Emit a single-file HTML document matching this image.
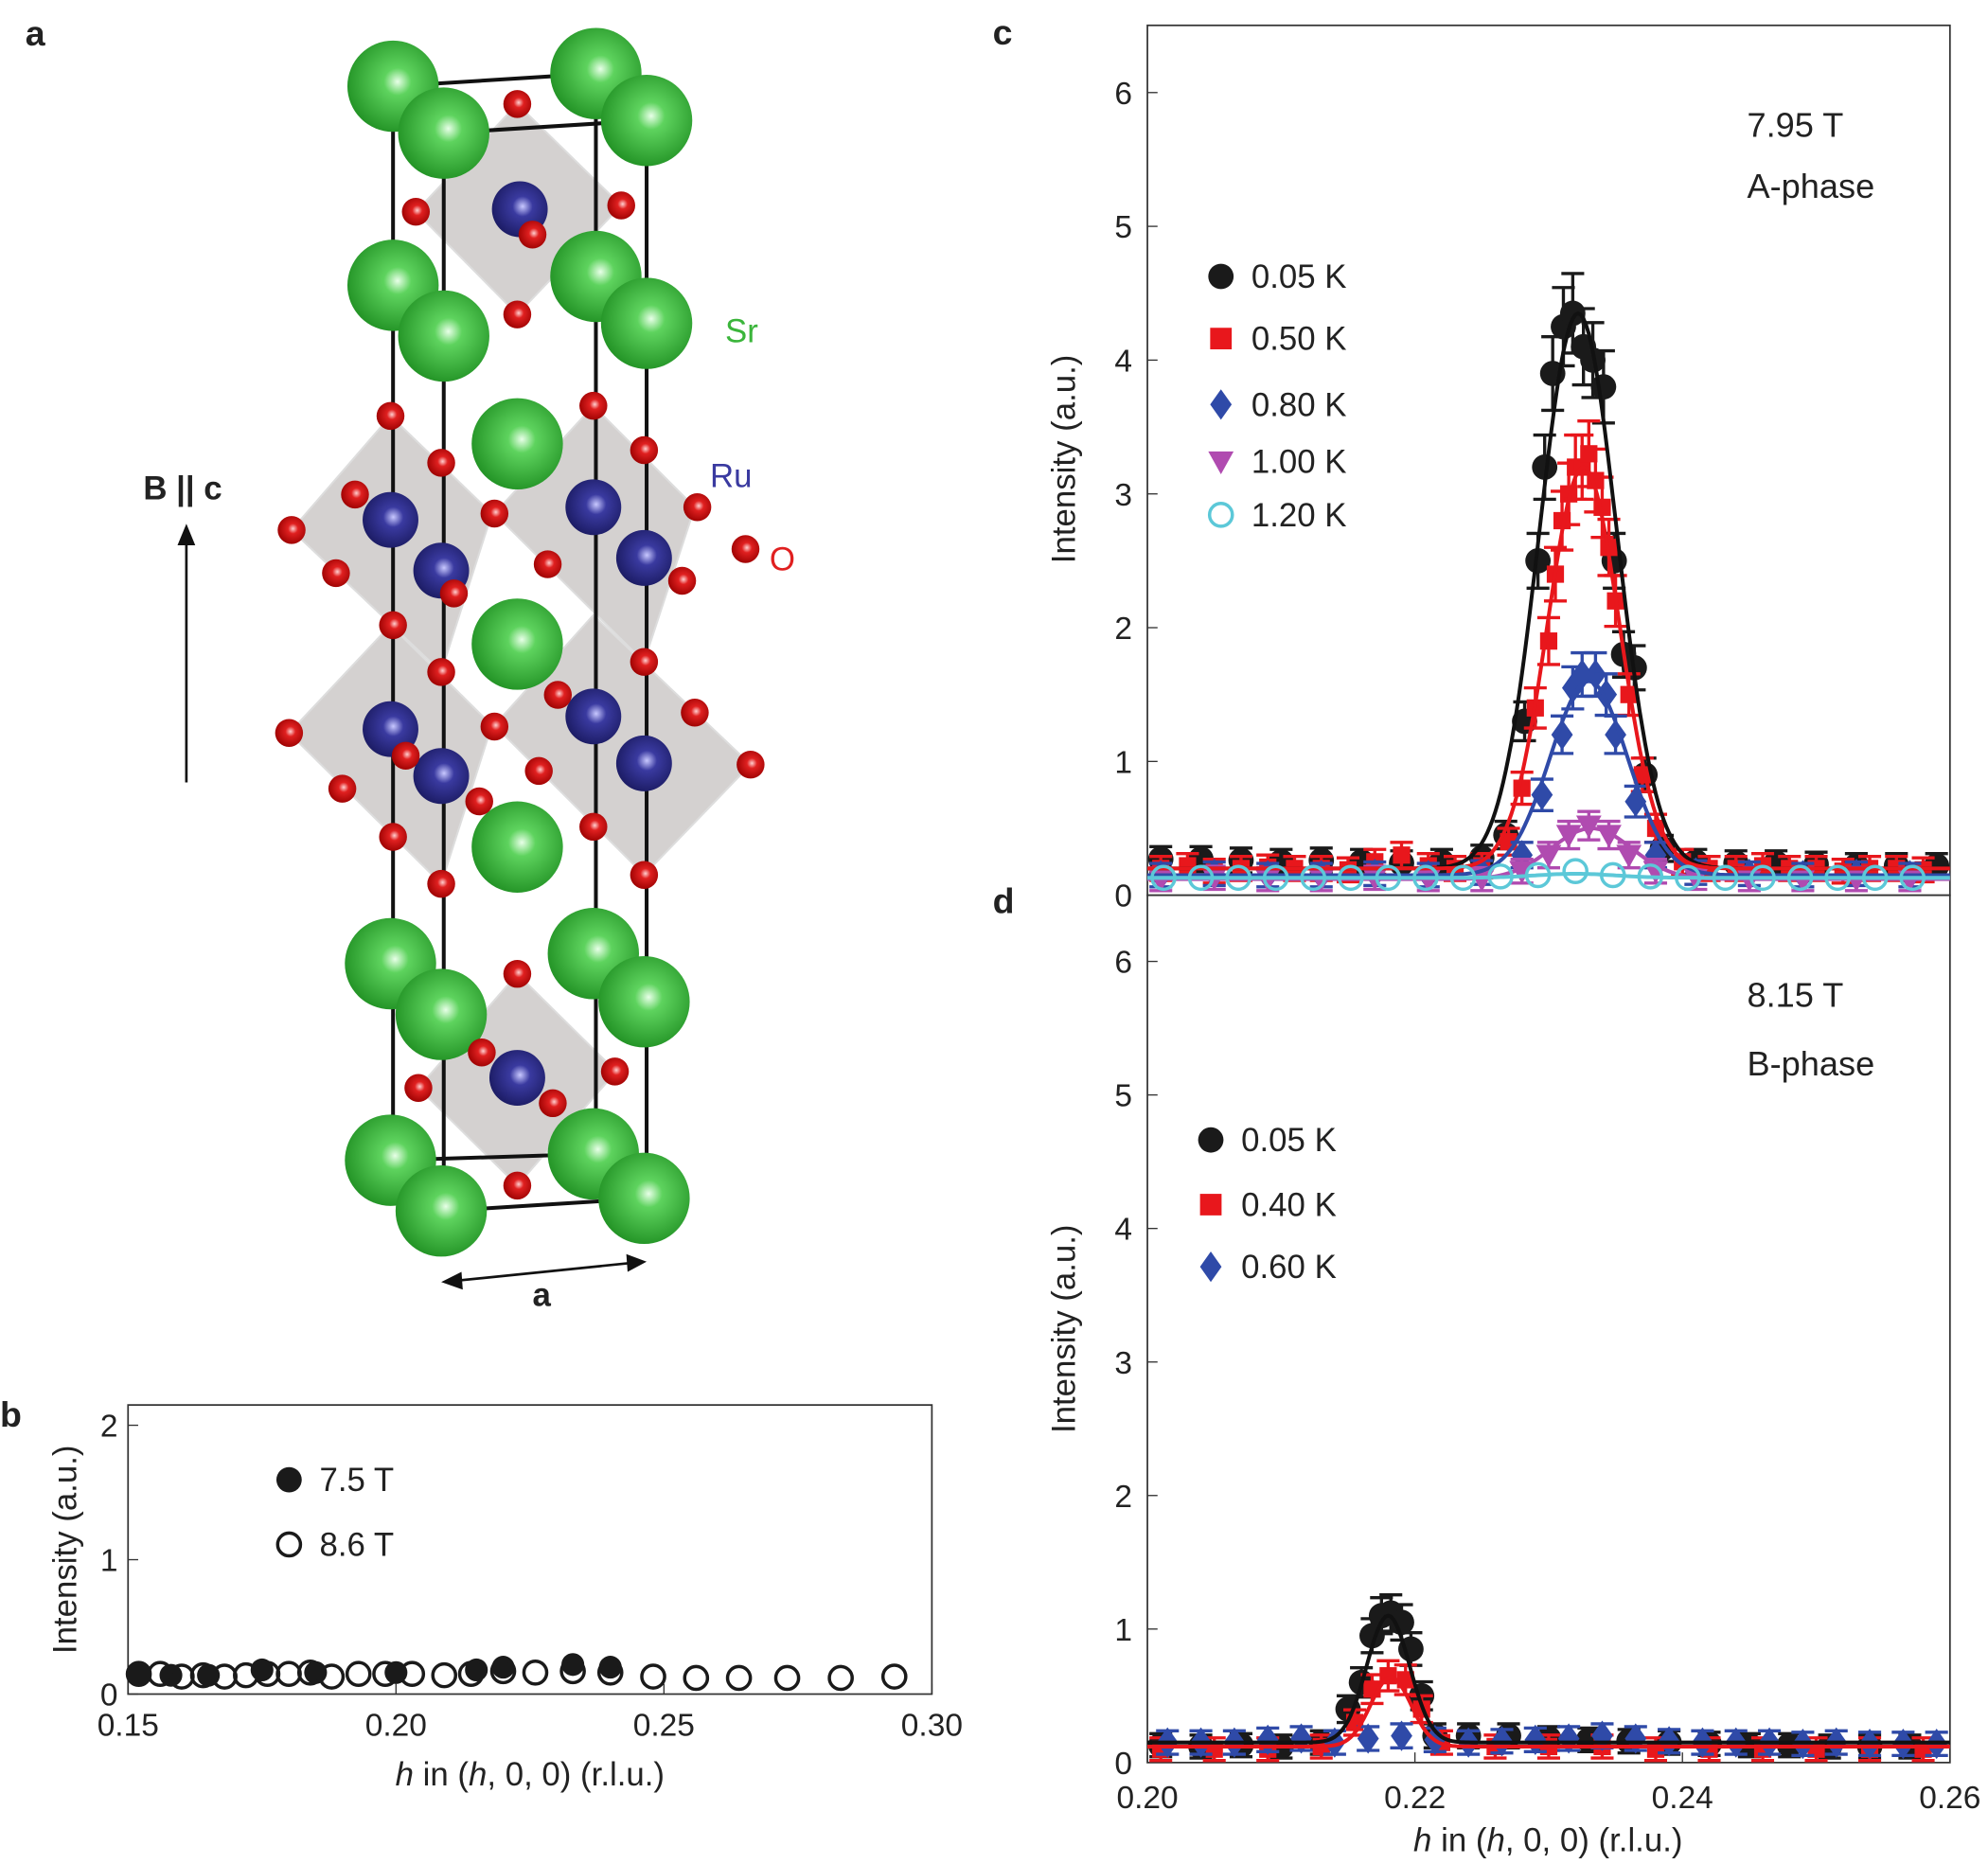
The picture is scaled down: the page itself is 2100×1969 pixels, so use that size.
<!DOCTYPE html>
<html><head><meta charset="utf-8">
<style>
html,body{margin:0;padding:0;background:#fff;}
svg{display:block;font-family:"Liberation Sans",sans-serif;}
text{fill:#222;}
</style></head>
<body>
<svg id="fig" width="2100" height="1969" viewBox="0 0 1568 1470" preserveAspectRatio="none" xmlns="http://www.w3.org/2000/svg">
<defs>
<radialGradient id="gG" cx="0.55" cy="0.45" r="0.6"><stop offset="0" stop-color="#e8ffe8"/><stop offset="0.25" stop-color="#5ed35e"/><stop offset="1" stop-color="#1f8f22"/></radialGradient>
<radialGradient id="gB" cx="0.55" cy="0.45" r="0.6"><stop offset="0" stop-color="#c8c8ff"/><stop offset="0.3" stop-color="#3a3aa0"/><stop offset="1" stop-color="#1a1a60"/></radialGradient>
<radialGradient id="gR" cx="0.55" cy="0.45" r="0.6"><stop offset="0" stop-color="#ffd0d0"/><stop offset="0.3" stop-color="#e02020"/><stop offset="1" stop-color="#900"/></radialGradient>
</defs>
<g id="panelA"></g>
<g id="panelB"></g>
<g id="panelC"></g>
<g id="panelD"></g>
</svg>
<script>
// ---------- Panel c data ----------
const cBlackH=[0.201,0.204,0.207,0.210,0.213,0.216,0.219,0.222,0.225,0.2268,0.2282,0.2292,0.2297,0.2303,0.2311,0.2318,0.2326,0.2333,0.2341,0.2349,0.2356,0.2364,0.2372,0.2385,0.241,0.244,0.247,0.250,0.253,0.256,0.259];
const cBlackI=[0.27,0.27,0.26,0.25,0.26,0.25,0.24,0.25,0.28,0.45,1.3,2.5,3.2,3.9,4.25,4.35,4.1,4.0,3.8,2.5,1.8,1.7,0.9,0.35,0.25,0.24,0.24,0.23,0.22,0.22,0.22];
const cRedH=[0.201,0.203,0.205,0.207,0.209,0.211,0.213,0.215,0.217,0.219,0.221,0.223,0.225,0.227,0.228,0.229,0.230,0.2305,0.231,0.2315,0.232,0.2325,0.233,0.2335,0.234,0.2345,0.235,0.236,0.237,0.238,0.240,0.242,0.244,0.246,0.248,0.250,0.252,0.254,0.256,0.258];
const cRedI=[0.2,0.22,0.18,0.2,0.21,0.2,0.2,0.19,0.25,0.3,0.22,0.2,0.22,0.4,0.8,1.4,1.9,2.4,2.8,3.0,3.2,3.2,3.3,3.1,2.9,2.6,2.2,1.5,0.9,0.5,0.25,0.2,0.2,0.22,0.2,0.2,0.18,0.2,0.2,0.19];
const cBlueH=[0.201,0.205,0.209,0.213,0.217,0.221,0.225,0.228,0.2295,0.231,0.2318,0.2325,0.2335,0.2343,0.235,0.2365,0.238,0.241,0.245,0.249,0.253,0.257];
const cBlueI=[0.15,0.16,0.15,0.15,0.16,0.15,0.17,0.3,0.75,1.2,1.55,1.65,1.65,1.5,1.2,0.7,0.3,0.17,0.16,0.15,0.16,0.15];
const cMagH=[0.201,0.205,0.209,0.213,0.217,0.221,0.225,0.228,0.230,0.2315,0.233,0.2345,0.236,0.238,0.241,0.245,0.249,0.253,0.257];
const cMagI=[0.12,0.13,0.12,0.12,0.13,0.12,0.12,0.18,0.3,0.45,0.52,0.45,0.3,0.18,0.13,0.12,0.12,0.12,0.12];
const cCyanH=[0.2012,0.2040,0.2068,0.2096,0.2124,0.2152,0.2180,0.2208,0.2236,0.2264,0.2292,0.2320,0.2348,0.2376,0.2404,0.2432,0.2460,0.2488,0.2516,0.2544,0.2572];
const cCyanI=[0.13,0.13,0.13,0.13,0.13,0.13,0.13,0.13,0.13,0.14,0.15,0.18,0.15,0.14,0.13,0.13,0.13,0.13,0.13,0.13,0.13];
// fit params [amp, center, sigma, background]
const cFitBlack=[4.15,0.2322,0.0029,0.2];
const cFitRed=[3.0,0.2326,0.0027,0.2];
const cFitBlue=[1.45,0.2330,0.0029,0.15];
const cFitMag=[0.38,0.2332,0.0030,0.12];
const cFitCyan=[0.03,0.2320,0.003,0.13];
// ---------- Panel d data ----------
const dBlackH=[0.201,0.204,0.207,0.210,0.213,0.2150,0.2160,0.2168,0.2175,0.2182,0.2190,0.2197,0.2205,0.2215,0.224,0.227,0.230,0.233,0.236,0.239,0.242,0.245,0.248,0.251,0.254,0.257];
const dBlackI=[0.13,0.12,0.13,0.12,0.15,0.4,0.6,0.95,1.1,1.12,1.05,0.85,0.5,0.2,0.2,0.2,0.18,0.17,0.16,0.15,0.14,0.13,0.13,0.12,0.12,0.12];
const dRedH=[0.201,0.205,0.209,0.213,0.2155,0.2168,0.2180,0.2193,0.2205,0.222,0.226,0.230,0.234,0.238,0.242,0.246,0.250,0.254,0.258];
const dRedI=[0.1,0.1,0.1,0.12,0.3,0.55,0.65,0.62,0.4,0.15,0.12,0.12,0.12,0.1,0.1,0.1,0.1,0.1,0.1];
const dBlueH=[0.2015,0.204,0.2065,0.209,0.2115,0.214,0.2165,0.219,0.2215,0.224,0.2265,0.229,0.2315,0.234,0.2365,0.239,0.2415,0.244,0.2465,0.249,0.2515,0.254,0.2565,0.259];
const dBlueI=[0.15,0.15,0.15,0.17,0.18,0.15,0.18,0.2,0.17,0.15,0.16,0.17,0.18,0.2,0.18,0.16,0.15,0.15,0.15,0.14,0.15,0.14,0.14,0.14];
const dFitBlack=[0.95,0.2180,0.0016,0.15];
const dFitRed=[0.52,0.2182,0.0015,0.12];
// ---------- Panel b data ----------
const bOpenH=[0.152,0.156,0.160,0.164,0.168,0.172,0.176,0.180,0.184,0.188,0.193,0.198,0.203,0.209,0.214,0.220,0.226,0.233,0.240,0.248,0.256,0.264,0.273,0.283,0.293];
const bOpenI=[0.15,0.15,0.13,0.14,0.13,0.14,0.15,0.15,0.16,0.13,0.15,0.15,0.15,0.14,0.15,0.17,0.16,0.17,0.16,0.13,0.12,0.12,0.12,0.12,0.13];
const bFillH=[0.152,0.158,0.165,0.175,0.185,0.200,0.215,0.220,0.233,0.240];
const bFillI=[0.15,0.14,0.14,0.18,0.16,0.16,0.18,0.2,0.22,0.2];
// tick labels
const cdYTicks=[0,1,2,3,4,5,6];
const cdXTicks=[0.20,0.22,0.24,0.26];
const bXTicks=[0.15,0.20,0.25,0.30];
const bYTicks=[0,1,2];

const NS="http://www.w3.org/2000/svg";
function el(p,tag,attrs,txt){const e=document.createElementNS(NS,tag);for(const k in attrs)e.setAttribute(k,attrs[k]);if(txt!==undefined)e.textContent=txt;p.appendChild(e);return e;}
function gauss(f,h){return f[3]+f[0]*Math.exp(-Math.pow(h-f[1],2)/(2*f[2]*f[2]));}

function marker(g,shape,x,y,col,r){
  let m;
  if(shape==='circle') m=el(g,'circle',{cx:x,cy:y,r:r,fill:col});
  else if(shape==='square') m=el(g,'rect',{x:x-r*0.85,y:y-r*0.85,width:r*1.7,height:r*1.7,fill:col});
  else if(shape==='diamond') m=el(g,'polygon',{points:`${x},${y-r*1.2} ${x+r*0.85},${y} ${x},${y+r*1.2} ${x-r*0.85},${y}`,fill:col});
  else if(shape==='tri') m=el(g,'polygon',{points:`${x-r},${y-r*0.8} ${x+r},${y-r*0.8} ${x},${y+r}`,fill:col});
  else m=el(g,'circle',{cx:x,cy:y,r:r,fill:'none',stroke:col,'stroke-width':2.6});
  return m;
}

function drawSeries(g,H,I,xs,ys,shape,col,r,errs,name){
  const sg=el(g,'g',{});
  
  
  for(let i=0;i<H.length;i++){
    const x=xs(H[i]),y=ys(I[i]);
    if(errs){const e=0.08+I[i]*0.05;const y1=ys(I[i]+e),y2=ys(I[i]-e);
      el(sg,'line',{x1:x,x2:x,y1:y1,y2:y2,stroke:col,'stroke-width':2.5});
      el(sg,'line',{x1:x-9,x2:x+9,y1:y1,y2:y1,stroke:col,'stroke-width':2.5});
      el(sg,'line',{x1:x-9,x2:x+9,y1:y2,y2:y2,stroke:col,'stroke-width':2.5});}
    const m=marker(sg,shape,x,y,col,r);
    
    
  }
}
function drawFit(g,f,xs,ys,col,name,x0,x1){
  let d='';for(let i=0;i<=300;i++){const h=x0+(x1-x0)*i/300;d+=(i?'L':'M')+xs(h).toFixed(1)+','+ys(gauss(f,h)).toFixed(1);}
  const p=el(g,'path',{d:d,fill:'none',stroke:col,'stroke-width':3});
  
  
}
function legend(g,x,y,shape,col,label,name){
  const lg=el(g,'g',{});
  
  
  marker(lg,shape,x,y,col,shape==='open'?9:10);
  el(lg,'text',{x:x+24,y:y+9,'font-size':26},label);
}

// ---------- Panel C ----------
(function(){
  const g=document.getElementById('panelC');
  const X0=905,X1=1538,Y0=706,ppu=105.5;
  const xs=h=>X0+(h-0.20)/0.06*(X1-X0), ys=v=>Y0-v*ppu;
  const box=el(g,'rect',{x:X0,y:20,width:X1-X0,height:Y0-20,fill:'none',stroke:'#333','stroke-width':1.3});
  
  for(const t of cdYTicks){el(g,'line',{x1:X0,x2:X0+8,y1:ys(t),y2:ys(t),stroke:'#333'});
    const tl=el(g,'text',{x:X0-12,y:ys(t)+9,'font-size':25,'text-anchor':'end'},String(t));
    }
  const yt=el(g,'text',{x:848,y:362,'font-size':26,'text-anchor':'middle',transform:'rotate(-90 848 362)'},'Intensity (a.u.)');
  
  el(g,'text',{x:783,y:35,'font-size':28,'font-weight':'bold'},'c');
  el(g,'text',{x:1378,y:108,'font-size':27},'7.95 T');
  el(g,'text',{x:1378,y:156,'font-size':27},'A-phase');
  drawSeries(g,cBlackH,cBlackI,xs,ys,'circle','#1a1a1a',10,true,'c-series-0.05K');
  drawSeries(g,cRedH,cRedI,xs,ys,'square','#e8171c',8,true,'c-series-0.50K');
  drawSeries(g,cBlueH,cBlueI,xs,ys,'diamond','#2f4aa8',10,true,'c-series-0.80K');
  drawSeries(g,cMagH,cMagI,xs,ys,'tri','#b04bb0',10,true,'c-series-1.00K');
  drawFit(g,cFitBlack,xs,ys,'#111','c-fit-0.05K',0.20,0.26);
  drawFit(g,cFitRed,xs,ys,'#e8171c','c-fit-0.50K',0.20,0.26);
  drawFit(g,cFitBlue,xs,ys,'#2f4aa8','c-fit-0.80K',0.20,0.26);
  drawFit(g,cFitMag,xs,ys,'#b04bb0','c-fit-1.00K',0.20,0.26);
  drawFit(g,cFitCyan,xs,ys,'#5cc8d8','c-fit-1.20K',0.20,0.26);
  drawSeries(g,cCyanH,cCyanI,xs,ys,'open','#5cc8d8',9,false,'c-series-1.20K');
  legend(g,963,218,'circle','#1a1a1a','0.05 K','c-legend-0.05K');
  legend(g,963,267,'square','#e8171c','0.50 K','c-legend-0.50K');
  legend(g,963,319,'diamond','#2f4aa8','0.80 K','c-legend-0.80K');
  legend(g,963,364,'tri','#b04bb0','1.00 K','c-legend-1.00K');
  legend(g,963,406,'open','#5cc8d8','1.20 K','c-legend-1.20K');
})();

// ---------- Panel D ----------
(function(){
  const g=document.getElementById('panelD');
  const X0=905,X1=1538,Y0=1390,ppu=105.3;
  const xs=h=>X0+(h-0.20)/0.06*(X1-X0), ys=v=>Y0-v*ppu;
  const box=el(g,'rect',{x:X0,y:706,width:X1-X0,height:Y0-706,fill:'none',stroke:'#333','stroke-width':1.3});
  
  for(const t of cdYTicks){el(g,'line',{x1:X0,x2:X0+8,y1:ys(t),y2:ys(t),stroke:'#333'});
    const tl=el(g,'text',{x:X0-12,y:ys(t)+9,'font-size':25,'text-anchor':'end'},String(t));
    }
  for(const t of cdXTicks){el(g,'line',{x1:xs(t),x2:xs(t),y1:Y0,y2:Y0-8,stroke:'#333'});
    const tl=el(g,'text',{x:xs(t),y:Y0+36,'font-size':25,'text-anchor':'middle'},t.toFixed(2));
    }
  const yt=el(g,'text',{x:848,y:1048,'font-size':26,'text-anchor':'middle',transform:'rotate(-90 848 1048)'},'Intensity (a.u.)');
  
  const xt=el(g,'text',{x:1221,y:1460,'font-size':26,'text-anchor':'middle'});
  
  xt.innerHTML='<tspan font-style="italic">h</tspan> in (<tspan font-style="italic">h</tspan>, 0, 0) (r.l.u.)';
  el(g,'text',{x:783,y:720,'font-size':28,'font-weight':'bold'},'d');
  el(g,'text',{x:1378,y:794,'font-size':27},'8.15 T');
  el(g,'text',{x:1378,y:848,'font-size':27},'B-phase');
  drawSeries(g,dBlackH,dBlackI,xs,ys,'circle','#1a1a1a',10,true,'d-series-0.05K');
  drawSeries(g,dRedH,dRedI,xs,ys,'square','#e8171c',8,true,'d-series-0.40K');
  drawSeries(g,dBlueH,dBlueI,xs,ys,'diamond','#2f4aa8',10,true,'d-series-0.60K');
  drawFit(g,dFitBlack,xs,ys,'#111','d-fit-0.05K',0.20,0.26);
  drawFit(g,dFitRed,xs,ys,'#e8171c','d-fit-0.40K',0.20,0.26);
  legend(g,955,899,'circle','#1a1a1a','0.05 K','d-legend-0.05K');
  legend(g,955,950,'square','#e8171c','0.40 K','d-legend-0.40K');
  legend(g,955,999,'diamond','#2f4aa8','0.60 K','d-legend-0.60K');
})();

// ---------- Panel B ----------
(function(){
  const g=document.getElementById('panelB');
  const X0=101,X1=735,Y0=1336,ppu=106;
  const xs=h=>X0+(h-0.15)/0.15*(X1-X0), ys=v=>Y0-v*ppu;
  const box=el(g,'rect',{x:X0,y:1108,width:X1-X0,height:Y0-1108,fill:'none',stroke:'#333','stroke-width':1.3});
  
  for(const t of bYTicks){el(g,'line',{x1:X0,x2:X0+8,y1:ys(t),y2:ys(t),stroke:'#333'});
    const tl=el(g,'text',{x:X0-8,y:ys(t)+9,'font-size':25,'text-anchor':'end'},String(t));
    }
  for(const t of bXTicks){el(g,'line',{x1:xs(t),x2:xs(t),y1:Y0,y2:Y0-8,stroke:'#333'});
    const tl=el(g,'text',{x:xs(t),y:Y0+33,'font-size':25,'text-anchor':'middle'},t.toFixed(2));
    }
  const yt=el(g,'text',{x:60,y:1222,'font-size':26,'text-anchor':'middle',transform:'rotate(-90 60 1222)'},'Intensity (a.u.)');
  
  const xt=el(g,'text',{x:418,y:1408,'font-size':26,'text-anchor':'middle'});
  
  xt.innerHTML='<tspan font-style="italic">h</tspan> in (<tspan font-style="italic">h</tspan>, 0, 0) (r.l.u.)';
  el(g,'text',{x:0,y:1125,'font-size':28,'font-weight':'bold'},'b');
  drawSeries(g,bFillH,bFillI,xs,ys,'circle','#1a1a1a',9,false,'b-series-7.5T');
  drawSeries(g,bOpenH,bOpenI,xs,ys,'open','#1a1a1a',9,false,'b-series-8.6T');
  legend(g,228,1167,'circle','#1a1a1a','7.5 T','b-legend-7.5T');
  legend(g,228,1218,'open','#1a1a1a','8.6 T','b-legend-8.6T');
})();

// ---------- Panel A ----------
(function(){
  const g=document.getElementById('panelA');
  el(g,'text',{x:20,y:36,'font-size':28,'font-weight':'bold'},'a');
  // octahedra
  const oct=[[408,82,328,167,490,162,408,248],[308,328,230,418,388,405,348,530],[468,320,390,405,548,400,508,522],[308,493,228,578,388,572,348,697],[468,485,390,572,592,603,508,690],[408,768,330,858,486,845,408,935]];
  for(const o of oct){const p=el(g,'polygon',{points:`${o[0]},${o[1]} ${o[4]},${o[5]} ${o[6]},${o[7]} ${o[2]},${o[3]}`,fill:'#b8b3b0','fill-opacity':0.6,stroke:'#ddd','stroke-width':1.5});
    }
  // cell lines
  const cell=[[310,68,310,915],[350,105,350,955],[470,58,470,910],[510,95,510,945],[310,68,470,58],[350,105,510,95],[310,915,470,910],[350,955,510,945],[310,68,350,105],[470,58,510,95],[310,915,350,955],[470,910,510,945]];
  for(const c of cell)el(g,'line',{x1:c[0],y1:c[1],x2:c[2],y2:c[3],stroke:'#111','stroke-width':3});
  const green=[[310,68],[470,58],[350,105],[510,95],[310,225],[470,218],[350,265],[510,255],[408,350],[408,508],[408,668],[308,760],[468,752],[348,800],[508,790],[308,915],[468,910],[348,955],[508,945]];
  for(const s of green){const c=el(g,'circle',{cx:s[0],cy:s[1],r:36,fill:'url(#gG)'});}
  const blue=[[410,165],[308,410],[468,400],[348,450],[508,440],[308,575],[468,565],[348,612],[508,602],[408,850]];
  for(const s of blue){const c=el(g,'circle',{cx:s[0],cy:s[1],r:22,fill:'url(#gB)'});}
  const red=[[408,82],[328,167],[490,162],[420,185],[408,248],[308,328],[468,320],[348,365],[508,355],[230,418],[265,452],[310,493],[358,468],[432,445],[538,458],[588,433],[390,405],[550,400],[228,578],[270,622],[310,660],[378,632],[425,608],[548,562],[592,603],[348,697],[508,690],[468,652],[348,530],[508,522],[408,768],[330,858],[436,870],[485,845],[408,935],[380,830],[280,390],[390,573],[440,548],[320,596]];
  for(const s of red){const c=el(g,'circle',{cx:s[0],cy:s[1],r:11,fill:'url(#gR)'});}
  el(g,'text',{x:572,y:270,'font-size':26,fill:'#3bb53b',style:'fill:#3bb53b'},'Sr');
  el(g,'text',{x:560,y:384,'font-size':26,style:'fill:#3a3aa0'},'Ru');
  el(g,'text',{x:607,y:450,'font-size':26,style:'fill:#e02020'},'O');
  // B || c arrow
  el(g,'line',{x1:147,y1:617,x2:147,y2:425,stroke:'#111','stroke-width':2});
  el(g,'polygon',{points:'147,413 140,430 154,430',fill:'#111'});
  el(g,'text',{x:113,y:394,'font-size':26,'font-weight':'bold'},'B || c');
  // a arrow
  el(g,'line',{x1:360,y1:1010,x2:498,y2:996,stroke:'#111','stroke-width':2});
  el(g,'polygon',{points:'348,1011 364,1003 365,1017',fill:'#111'});
  el(g,'polygon',{points:'510,995 494,989 495,1003',fill:'#111'});
  el(g,'text',{x:420,y:1030,'font-size':26,'font-weight':'bold'},'a');
})();
</script>
</body></html>
